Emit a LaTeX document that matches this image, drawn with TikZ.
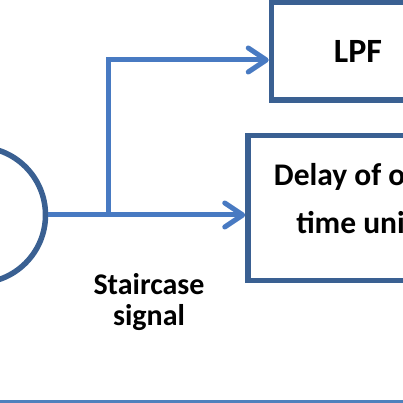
\documentclass[tikz,border=0pt]{standalone}
\usepackage{fontspec}
\setmainfont{Carlito}
\usepackage{xcolor}
\usetikzlibrary{positioning,arrows.meta,calc}
\definecolor{boxblue}{RGB}{58,96,146}
\definecolor{lineblue}{RGB}{72,122,194}
\definecolor{ruleblue}{RGB}{79,129,189}

\begin{document}
\begin{tikzpicture}[x=1pt,y=1pt,
  blockbox/.style={draw=boxblue,line width=5.5pt,rectangle,inner sep=0pt,align=center},
  sigline/.style={draw=lineblue,line width=5pt,-{Straight Barb[length=18pt,width=24pt,line width=5pt,round]}}]
\useasboundingbox (0,0) rectangle (403,403);

\node[circle,draw=boxblue,line width=5.5pt,minimum size=136pt,inner sep=0pt] (src) at (-22.5,188) {};
\node[blockbox,minimum width=173pt,minimum height=98pt,font=\fontsize{34}{40}\selectfont\bfseries] (lpf) at (358,352) {LPF};
\node[blockbox,minimum width=216pt,minimum height=145pt] (dly) at (356,195) {};
\node[align=center,font=\fontsize{31.5}{48}\selectfont\bfseries] (dlytxt) at ([yshift=9pt]dly.center) {Delay of one\\time unit};
\node[align=center,font=\fontsize{30}{31}\selectfont\bfseries] (lbl) at (149,101) {Staircase\\signal};

\coordinate (split) at (108,188);
\draw[sigline] (src.east) -- (src.east -| dly.west);
\draw[sigline] (split) |- ([yshift=-9pt]lpf.west);

\draw[ruleblue,line width=3pt] (0,1.5) -- (403,1.5);
\end{tikzpicture}
\end{document}
